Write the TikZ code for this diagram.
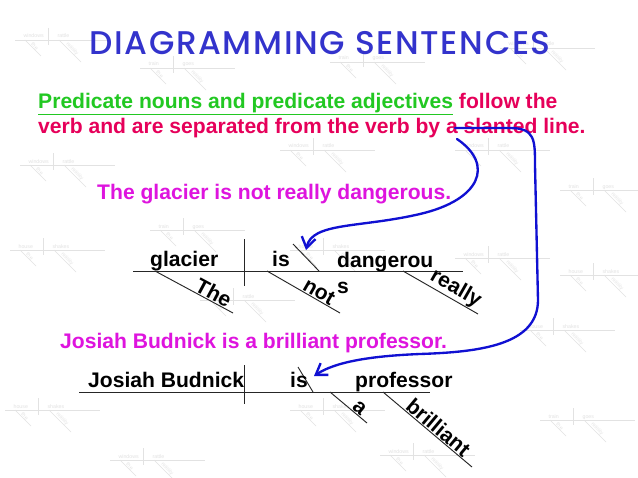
\documentclass[tikz,border=0pt]{standalone}
\usepackage{fontspec}
\setmainfont{Liberation Sans}
\newfontfamily\titlefont{Poppins}[UprightFont={* Medium}, LetterSpace=5]
\usetikzlibrary{arrows.meta}

\definecolor{titleblue}{RGB}{51,51,204}
\definecolor{nounsgreen}{RGB}{34,200,34}
\definecolor{rulered}{RGB}{230,0,90}
\definecolor{sentpink}{RGB}{222,20,222}
\definecolor{penblue}{RGB}{16,16,210}
\definecolor{wmgray}{RGB}{226,226,226}

\tikzset{
  heading/.style={anchor=base, inner sep=0pt, text=titleblue, font=\titlefont\fontsize{28}{30}\selectfont},
  ruletext/.style={anchor=base west, inner sep=0pt, text=rulered, font=\bfseries\fontsize{18}{20}\selectfont},
  sentence/.style={anchor=base west, inner sep=0pt, text=sentpink, font=\bfseries\fontsize{18}{20}\selectfont},
  word/.style={anchor=base west, inner sep=0pt, font=\bfseries\fontsize{18}{22}\selectfont},
  modword/.style={sloped, anchor=south, inner sep=0.5pt, font=\bfseries\fontsize{18}{20}\selectfont},
  diagline/.style={draw=black!85, line width=0.8pt},
  pen/.style={draw=penblue, line width=2pt, line cap=round, -{Straight Barb[length=9pt,width=12pt,line width=2pt]}},
  wmline/.style={draw=wmgray, line width=0.5pt},
  wmword/.style={text=wmgray, inner sep=0.3pt, font=\fontsize{4.5}{5}\selectfont},
  pics/wmtile/.style n args={2}{code={
    \draw[wmline] (0,0) -- (95,0) (33,-12) -- (33,5);
    \node[wmword, anchor=base west] at (8,-2) {#1};
    \node[wmword, anchor=base west] at (42,-2) {#2};
    \draw[wmline] (10,0) -- (26,16) node[wmword, midway, sloped, above] {the};
    \draw[wmline] (44,0) -- (66,22) node[wmword, midway, sloped, above] {noisily};
  }}
}

\begin{document}
\begin{tikzpicture}[x=0.03cm, y=-0.03cm]
\useasboundingbox[fill=white] (0,0) rectangle (638,478);

\foreach \px/\py/\wa/\wb in {15/40/windows/rattle, 140/68/train/goes, 330/62/train/goes, 500/48/windows/rattle,
    20/165/windows/rattle, 280/150/windows/rattle, 455/150/windows/rattle, 560/190/train/goes,
    10/250/house/shakes, 150/230/train/goes, 290/250/house/shakes, 560/275/house/shakes,
    200/300/windows/rattle, 455/258/windows/rattle, 5/410/house/shakes, 290/410/house/shakes,
    520/330/house/shakes, 110/460/windows/rattle, 380/455/windows/rattle, 540/420/train/goes}
  \pic at (\px,\py) {wmtile={\wa}{\wb}};

\node[heading] (title) at (320,55) {DIAGRAMMING SENTENCES};

\node[ruletext] (rule1) at (38,108) {\textcolor{nounsgreen}{\underline{Predicate nouns and predicate adjectives}} follow the};
\node[ruletext] (rule2) at (38,133) {verb and are separated from the verb by a slanted line.};

\node[sentence] (sent1) at (97,199) {The glacier is not really dangerous.};

% first diagram
\draw[diagline] (133,271) -- (463,271);
\draw[diagline] (244,239) -- (244,286);
\draw[diagline] (293,244) -- (319,271);
\node[word] (glacier) at (150,266) {glacier};
\node[word] (is1) at (272,266) {is};
\node[word, align=left, anchor=north west] (dangerous) at (337,252) {dangerou\\s};
\draw[diagline] (155,271) -- (233,313) node[modword, pos=0.7] (the) {The};
\draw[diagline] (267,271) -- (340,313) node[modword, pos=0.66] (not) {not};
\draw[diagline] (403,271) -- (478,314) node[modword, pos=0.63] (really) {really};

\node[sentence] (sent2) at (60,348) {Josiah Budnick is a brilliant professor.};

% second diagram
\draw[diagline] (79,392) -- (430,392);
\draw[diagline] (244,365) -- (244,404);
\draw[diagline] (298,367) -- (313,392);
\node[word] (josiah) at (88,387) {Josiah Budnick};
\node[word] (is2) at (290,387) {is};
\node[word] (professor) at (355,387) {professor};
\draw[diagline] (330,392) -- (367,423) node[modword, pos=0.68] (a) {a};
\draw[diagline] (383,392) -- (472,467) node[modword, pos=0.56] (brilliant) {brilliant};

% pen strokes
\coordinate (pen1 start) at (457,139);
\coordinate (pen1 end) at (306,250);
\coordinate (pen2 start) at (455,128);
\coordinate (pen2 end) at (314,376);
\draw[pen] (pen1 start) .. controls (495,165) and (480,200) .. (420,214)
  .. controls (360,228) and (312,222) .. (pen1 end);
\draw[pen] (pen2 start) -- (510,128) .. controls (535,128) and (535,140) .. (535,165)
  -- (538,300) .. controls (538,345) and (480,352) .. (420,354)
  .. controls (370,356) and (335,362) .. (pen2 end);
\end{tikzpicture}
\end{document}
